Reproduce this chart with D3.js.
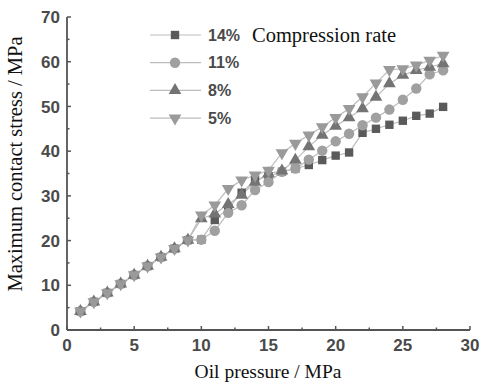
<!DOCTYPE html>
<html>
<head>
<meta charset="utf-8">
<script src="https://cdn.jsdelivr.net/npm/d3@7"></script>
<style>
  body { margin: 0; background: #fff; }
  svg { display: block; }
</style>
</head>
<body>
<div id="chart"></div>
<script>
// Data
const oilPressure = d3.range(1, 29);
const common = [4.2, 6.3, 8.3, 10.3, 12.3, 14.3, 16.3, 18.2, 20.1];
const rate14 = common.concat([20.2, 24.6, 27.2, 30.7, 33.5, 34.4, 35.4, 36.1, 36.9, 38.0, 39.0, 39.7, 44.1, 45.0, 45.9, 46.8, 47.9, 48.4, 49.9]);
const rate11 = common.concat([20.2, 22.2, 26.2, 27.9, 31.3, 33.1, 35.4, 36.1, 38.1, 40.1, 42.2, 43.9, 45.8, 47.5, 49.3, 51.5, 54.0, 57.2, 58.1]);
const rate8  = common.concat([24.9, 26.0, 28.1, 30.2, 33.1, 35.0, 35.6, 38.0, 41.0, 43.6, 45.6, 47.5, 49.5, 52.1, 55.1, 57.0, 58.1, 58.8, 59.6]);
const rate5  = common.concat([25.7, 27.9, 31.6, 33.5, 34.6, 35.7, 39.6, 41.7, 43.6, 45.4, 47.5, 49.5, 52.1, 55.2, 58.2, 58.4, 59.2, 60.3, 61.4]);

const seriesNames = ["14%", "11%", "8%", "5%"];
const seriesValues = [rate14, rate11, rate8, rate5];
const xTicks = [0, 5, 10, 15, 20, 25, 30];
const yTicks = [0, 10, 20, 30, 40, 50, 60, 70];

// Dimensions
const width = 480;
const height = 384;
const margin = {top: 17, right: 10, bottom: 54, left: 67};
const innerWidth = width - margin.left - margin.right;
const innerHeight = height - margin.top - margin.bottom;

const svg = d3.select("#chart")
  .append("svg")
    .attr("width", width)
    .attr("height", height);

const innerChart = svg
  .append("g")
    .attr("transform", `translate(${margin.left}, ${margin.top})`);

// Scales
const xScale = d3.scaleLinear().domain([0, 30]).range([0, 403]);
const yScale = d3.scaleLinear().domain([0, 70]).range([innerHeight, 0]);

// marker styles per series
const styles = [
  {symbol: d3.symbolSquare, size: 70, fill: "#5a5a5a", rotate: 0},
  {symbol: d3.symbolCircle, size: 85, fill: "#a0a0a0", rotate: 0},
  {symbol: d3.symbolTriangle, size: 70, fill: "#747474", rotate: 0},
  {symbol: d3.symbolTriangle, size: 70, fill: "#9a9a9a", rotate: 180}
];

const line = d3.line()
  .x(d => xScale(d[0]))
  .y(d => yScale(d[1]));

// lines first, then markers
seriesValues.forEach((vals, i) => {
  const pts = oilPressure.map((x, j) => [x, vals[j]]);
  innerChart.append("path")
    .datum(pts)
    .attr("fill", "none")
    .attr("stroke", "#bcbcbc")
    .attr("stroke-width", 1.2)
    .attr("d", line);
});

seriesValues.forEach((vals, i) => {
  const st = styles[i];
  const pts = oilPressure.map((x, j) => [x, vals[j]]);
  innerChart.selectAll(`.mark-${i}`)
    .data(pts)
    .join("path")
      .attr("class", `mark-${i}`)
      .attr("d", d3.symbol().type(st.symbol).size(st.size))
      .attr("transform", d => `translate(${xScale(d[0])}, ${yScale(d[1])}) rotate(${st.rotate})`)
      .attr("fill", st.fill)
      .attr("stroke", "none");
});

// Axes (ticks pointing inward, minor ticks between)
const axisColor = "#555";
const gx = innerChart.append("g")
  .attr("transform", `translate(0, ${innerHeight})`);
gx.append("line")
  .attr("x1", 0).attr("x2", xScale(30))
  .attr("stroke", axisColor).attr("stroke-width", 1.8);
gx.selectAll(".xtick")
  .data(d3.range(0, 30.1, 2.5))
  .join("line")
    .attr("x1", d => xScale(d)).attr("x2", d => xScale(d))
    .attr("y1", 0).attr("y2", d => d % 5 === 0 ? -4 : -2.5)
    .attr("stroke", axisColor).attr("stroke-width", 1.5);
gx.selectAll(".xlabel")
  .data(xTicks)
  .join("text")
    .attr("x", d => xScale(d))
    .attr("y", 21)
    .attr("text-anchor", "middle")
    .attr("font-family", "Liberation Sans, Arial, sans-serif")
    .attr("font-weight", "bold")
    .attr("font-size", 17)
    .attr("fill", "#4a4a4a")
    .text(d => d);

const gy = innerChart.append("g");
gy.append("line")
  .attr("y1", 0).attr("y2", innerHeight)
  .attr("stroke", axisColor).attr("stroke-width", 1.8);
gy.selectAll(".ytick")
  .data(d3.range(0, 70.1, 5))
  .join("line")
    .attr("y1", d => yScale(d)).attr("y2", d => yScale(d))
    .attr("x1", 0).attr("x2", d => d % 10 === 0 ? 4 : 2.5)
    .attr("stroke", axisColor).attr("stroke-width", 1.5);
gy.selectAll(".ylabel")
  .data(yTicks)
  .join("text")
    .attr("x", -7)
    .attr("y", d => yScale(d))
    .attr("dy", "0.36em")
    .attr("text-anchor", "end")
    .attr("font-family", "Liberation Sans, Arial, sans-serif")
    .attr("font-weight", "bold")
    .attr("font-size", 17)
    .attr("fill", "#4a4a4a")
    .text(d => d);

// Axis titles
svg.append("text")
  .attr("x", 268)
  .attr("y", 378)
  .attr("text-anchor", "middle")
  .attr("font-family", "Liberation Serif, Times New Roman, serif")
  .attr("font-size", 19.5)
  .attr("fill", "#111")
  .text("Oil pressure / MPa");

svg.append("text")
  .attr("transform", "translate(22, 164) rotate(-90)")
  .attr("text-anchor", "middle")
  .attr("font-family", "Liberation Serif, Times New Roman, serif")
  .attr("font-size", 20.5)
  .attr("fill", "#111")
  .text("Maximum contact stress / MPa");

// Legend
const legend = svg.append("g");
seriesNames.forEach((name, i) => {
  const st = styles[i];
  const y = 35 + i * 27.7;
  legend.append("line")
    .attr("x1", 150).attr("x2", 201)
    .attr("y1", y).attr("y2", y)
    .attr("stroke", "#bcbcbc").attr("stroke-width", 1.2);
  legend.append("path")
    .attr("d", d3.symbol().type(st.symbol).size(st.size))
    .attr("transform", `translate(175, ${y}) rotate(${st.rotate})`)
    .attr("fill", st.fill);
  legend.append("text")
    .attr("x", 208)
    .attr("y", y)
    .attr("dy", "0.36em")
    .attr("font-family", "Liberation Sans, Arial, sans-serif")
    .attr("font-weight", "bold")
    .attr("font-size", 16)
    .attr("fill", "#4a4a4a")
    .text(name);
});

legend.append("text")
  .attr("x", 252)
  .attr("y", 35)
  .attr("dy", "0.34em")
  .attr("font-family", "Liberation Serif, Times New Roman, serif")
  .attr("font-size", 20.5)
  .attr("fill", "#111")
  .text("Compression rate");
</script>
</body>
</html>
